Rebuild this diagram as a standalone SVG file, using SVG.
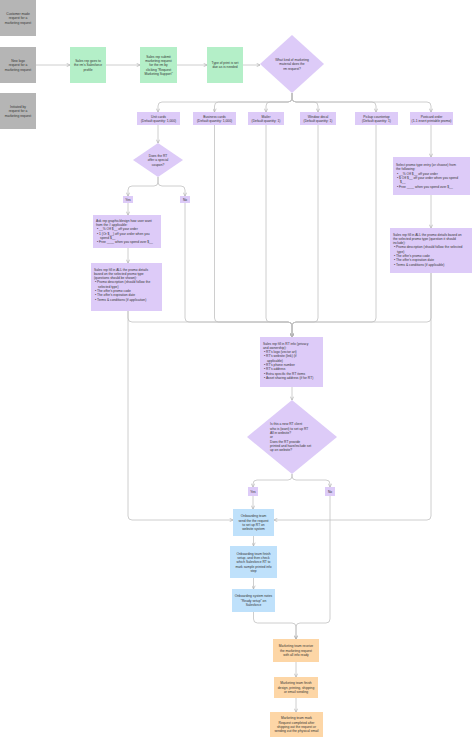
<svg xmlns="http://www.w3.org/2000/svg" width="474" height="739" viewBox="0 0 474 739">
<style>
.bg{fill:#ffffff}
.gy{fill:#b5b5b5}
.gn{fill:#b4efc8}
.pu{fill:#ddcbf8}
.bl{fill:#bfe1fb}
.or{fill:#fdd6a6}
text{font-family:"Liberation Sans",Arial,sans-serif;font-size:3.3px;fill:#333333}
.c{text-anchor:middle}
.e path{fill:none;stroke:#c2c2c2;stroke-width:0.8}
</style>
<defs>
<marker id="a" viewBox="0 0 6 6" refX="5.5" refY="3" markerWidth="4" markerHeight="4" markerUnits="userSpaceOnUse" orient="auto">
<path d="M0.5,0.5 L5.5,3 L0.5,5.5" fill="none" stroke="#b0b0b0" stroke-width="1"/>
</marker>
</defs>
<rect class="bg" x="0" y="0" width="474" height="739"/>

<g class="e" id="connectors">
<path d="M36,65 H70" marker-end="url(#a)"/>
<path d="M106,65 H140" marker-end="url(#a)"/>
<path d="M177,65 H207" marker-end="url(#a)"/>
<path d="M243,65 H260" marker-end="url(#a)"/>
<path d="M292,93 V98 Q292,102 288,102 H162 Q158,102 158,106 V112" marker-end="url(#a)"/>
<path d="M292,93 V98 Q292,102 288,102 H218.5 Q214.5,102 214.5,106 V112" marker-end="url(#a)"/>
<path d="M292,93 V98 Q292,102 288,102 H270 Q266,102 266,106 V112" marker-end="url(#a)"/>
<path d="M292,93 V98 Q292,102 296,102 H314 Q318,102 318,106 V112" marker-end="url(#a)"/>
<path d="M292,93 V98 Q292,102 296,102 H372 Q376,102 376,106 V112" marker-end="url(#a)"/>
<path d="M292,93 V98 Q292,102 296,102 H427 Q431,102 431,106 V112" marker-end="url(#a)"/>
<path d="M158,125 V143" marker-end="url(#a)"/>
<path d="M158,177 V182 Q158,186 154,186 H132 Q128,186 128,190 V196" marker-end="url(#a)"/>
<path d="M158,177 V182 Q158,186 162,186 H181 Q185,186 185,190 V196" marker-end="url(#a)"/>
<path d="M128,203 V215" marker-end="url(#a)"/>
<path d="M128,248 V263" marker-end="url(#a)"/>
<path d="M128,311 V318 Q128,322 132,322 H288 Q292,322 292,326 V337" marker-end="url(#a)"/>
<path d="M185,203 V318 Q185,322 189,322 H288 Q292,322 292,326 V337" marker-end="url(#a)"/>
<path d="M214.5,125 V318 Q214.5,322 218.5,322 H288 Q292,322 292,326 V337" marker-end="url(#a)"/>
<path d="M266,125 V318 Q266,322 270,322 H288 Q292,322 292,326 V337" marker-end="url(#a)"/>
<path d="M318,125 V318 Q318,322 314,322 H296 Q292,322 292,326 V337" marker-end="url(#a)"/>
<path d="M376,125 V318 Q376,322 372,322 H296 Q292,322 292,326 V337" marker-end="url(#a)"/>
<path d="M431,125 V157" marker-end="url(#a)"/>
<path d="M431,195 V228" marker-end="url(#a)"/>
<path d="M431,273 V318 Q431,322 427,322 H296 Q292,322 292,326 V337" marker-end="url(#a)"/>
<path d="M128,311 V516 Q128,520 132,520 H233" marker-end="url(#a)"/>
<path d="M431,273 V516 Q431,520 427,520 H274" marker-end="url(#a)"/>
<path d="M292,387 V400" marker-end="url(#a)"/>
<path d="M292,474 V476 Q292,480 288,480 H257 Q253,480 253,484 V487" marker-end="url(#a)"/>
<path d="M292,474 V476 Q292,480 296,480 H326 Q330,480 330,484 V487" marker-end="url(#a)"/>
<path d="M253,496 V509" marker-end="url(#a)"/>
<path d="M253.5,536 V546" marker-end="url(#a)"/>
<path d="M253.5,578 V589" marker-end="url(#a)"/>
<path d="M253.5,612 V619 Q253.5,623 257.5,623 H292 Q296,623 296,627 V639" marker-end="url(#a)"/>
<path d="M330,496 V619 Q330,623 326,623 H300 Q296,623 296,627 V639" marker-end="url(#a)"/>
<path d="M296,662 V677" marker-end="url(#a)"/>
<path d="M296,698 V712" marker-end="url(#a)"/>
</g>

<g id="gray1"><rect class="gy" x="0" y="0" width="36" height="36"/>
<text class="c" x="18" y="14.9">Customer made</text><text class="c" x="18" y="19.2">request for a</text><text class="c" x="18" y="23.5">marketing request</text></g>
<g id="gray2"><rect class="gy" x="0" y="47" width="36" height="36"/>
<text class="c" x="18" y="61.9">New logo</text><text class="c" x="18" y="66.2">request for a</text><text class="c" x="18" y="70.5">marketing request</text></g>
<g id="gray3"><rect class="gy" x="0" y="93" width="36" height="36"/>
<text class="c" x="18" y="107.9">Initiated by</text><text class="c" x="18" y="112.2">request for a</text><text class="c" x="18" y="116.5">marketing request</text></g>

<g id="green1"><rect class="gn" x="70" y="47" width="36" height="36"/>
<text class="c" x="88" y="61.9">Sales rep goes to</text><text class="c" x="88" y="66.2">the rm's Salesforce</text><text class="c" x="88" y="70.5">profile</text></g>
<g id="green2"><rect class="gn" x="140" y="47" width="37" height="36"/>
<text class="c" x="158.5" y="57.6">Sales rep submit</text><text class="c" x="158.5" y="61.9">marketing request</text><text class="c" x="158.5" y="66.2">for the rm by</text><text class="c" x="158.5" y="70.5">clicking "Request</text><text class="c" x="158.5" y="74.8">Marketing Support"</text></g>
<g id="green3"><rect class="gn" x="207" y="47" width="36" height="36"/>
<text class="c" x="225" y="64">Type of print is set</text><text class="c" x="225" y="68.3">due as is needed</text></g>
<g id="dmain"><polygon class="pu" points="292,35 324,64 292,93 260,64"/>
<text class="c" x="292" y="60.9">What kind of marketing</text><text class="c" x="292" y="65.2">material does the</text><text class="c" x="292" y="69.5">rm request?</text></g>

<g id="opt1"><rect class="pu" x="137" y="112" width="43" height="13"/>
<text class="c" x="158.5" y="117.6">Unit cards</text><text class="c" x="158.5" y="121.9">(Default quantity: 1,000)</text></g>
<g id="opt2"><rect class="pu" x="193" y="112" width="43" height="13"/>
<text class="c" x="214.5" y="117.6">Business cards</text><text class="c" x="214.5" y="121.9">(Default quantity: 1,000)</text></g>
<g id="opt3"><rect class="pu" x="248" y="112" width="36" height="13"/>
<text class="c" x="266" y="117.6">Mailer</text><text class="c" x="266" y="121.9">(Default quantity: 1)</text></g>
<g id="opt4"><rect class="pu" x="300" y="112" width="36" height="13"/>
<text class="c" x="318" y="117.6">Window decal</text><text class="c" x="318" y="121.9">(Default quantity: 1)</text></g>
<g id="opt5"><rect class="pu" x="355" y="112" width="43" height="13"/>
<text class="c" x="376.5" y="117.6">Pickup countertop</text><text class="c" x="376.5" y="121.9">(Default quantity: 1)</text></g>
<g id="opt6"><rect class="pu" x="410" y="112" width="43" height="13"/>
<text class="c" x="431.5" y="117.6">Postcard order</text><text class="c" x="431.5" y="121.9">(1-1 insert printable promo)</text></g>

<g id="dleft"><polygon class="pu" points="158,143 183,160 158,177 133,160"/>
<text class="c" x="158" y="156.9">Does the RT</text><text class="c" x="158" y="161.2">offer a special</text><text class="c" x="158" y="165.5">coupon?</text></g>
<g id="yes1"><rect class="pu" x="123" y="196" width="10" height="7"/><text class="c" x="128" y="200.7">Yes</text></g>
<g id="no1"><rect class="pu" x="180" y="196" width="10" height="7"/><text class="c" x="185" y="200.7">No</text></g>

<g id="lbox1"><rect class="pu" x="93" y="215" width="68" height="33"/>
<text x="96" y="221.6">Ask rep graphic/design how user want</text>
<text x="96" y="225.9">from the # applicable:</text>
<text x="97" y="230.2">•  __% Off $__ off your order</text>
<text x="97" y="234.5">•  1 (Or $__) off your order when you</text>
<text x="100" y="238.8">spend $__</text>
<text x="97" y="243.1">•  Free ____ when you spend over $__</text></g>

<g id="lbox2"><rect class="pu" x="91" y="263" width="71" height="48"/>
<text x="94" y="270.5">Sales rep fill in ALL the promo details</text>
<text x="94" y="274.8">based on the selected promo type</text>
<text x="94" y="279.1">(questions should be shown):</text>
<text x="95" y="283.4">•  Promo description (should follow the</text>
<text x="98" y="287.7">selected type)</text>
<text x="95" y="292">•  The offer's promo code</text>
<text x="95" y="296.3">•  The offer's expiration date</text>
<text x="95" y="300.6">•  Terms &amp; conditions (if application)</text></g>

<g id="rbox1"><rect class="pu" x="393" y="157" width="77" height="38"/>
<text x="396" y="166">Select promo type entry (or choose) from</text>
<text x="396" y="170.3">the following:</text>
<text x="397" y="174.6">•  __% Off $__ off your order</text>
<text x="397" y="178.9">•  $ Off $__ off your order when you spend</text>
<text x="400" y="183.2">$__</text>
<text x="397" y="187.5">•  Free ____ when you spend over $__</text></g>

<g id="rbox2"><rect class="pu" x="390" y="228" width="82" height="45"/>
<text x="393" y="235.5">Sales rep fill in ALL the promo details based on</text>
<text x="393" y="239.8">the selected promo type (question it should</text>
<text x="393" y="244.1">include):</text>
<text x="394" y="248.4">•  Promo description (should follow the selected</text>
<text x="397" y="252.7">type)</text>
<text x="394" y="257">•  The offer's promo code</text>
<text x="394" y="261.3">•  The offer's expiration date</text>
<text x="394" y="265.6">•  Terms &amp; conditions (if applicable)</text></g>

<g id="mbox"><rect class="pu" x="260" y="337" width="63" height="50"/>
<text x="263" y="344.5">Sales rep fill in RT info (privacy</text>
<text x="263" y="348.8">and ownership):</text>
<text x="264" y="353.1">•  RT's logo (vector art)</text>
<text x="264" y="357.4">•  RT's website (link) (if</text>
<text x="267" y="361.7">applicable)</text>
<text x="264" y="366">•  RT's phone number</text>
<text x="264" y="370.3">•  RT's address</text>
<text x="264" y="374.6">•  Extra specific the RT items</text>
<text x="264" y="378.9">•  Asset sharing address (if for RT)</text></g>

<g id="dmid"><polygon class="pu" points="292,400 337,437 292,474 247,437"/>
<text x="270" y="425.3">Is this a new RT client</text>
<text x="270" y="429.6">who is (want) to set up RT</text>
<text x="270" y="433.9">All in website?</text>
<text x="270" y="438.2">or</text>
<text x="270" y="442.5">Does the RT provide</text>
<text x="270" y="446.8">printed and have/include set</text>
<text x="270" y="451.1">up on website?</text></g>
<g id="yes2"><rect class="pu" x="248" y="487" width="10" height="9"/><text class="c" x="253" y="492.7">Yes</text></g>
<g id="no2"><rect class="pu" x="325" y="487" width="10" height="9"/><text class="c" x="330" y="492.7">No</text></g>

<g id="blue1"><rect class="bl" x="233" y="509" width="41" height="27"/>
<text class="c" x="253.5" y="517.3">Onboarding team</text><text class="c" x="253.5" y="521.6">send the the request</text><text class="c" x="253.5" y="525.9">to set up RT on</text><text class="c" x="253.5" y="530.2">website system</text></g>
<g id="blue2"><rect class="bl" x="230" y="546" width="47" height="32"/>
<text class="c" x="253.5" y="554.6">Onboarding team finish</text><text class="c" x="253.5" y="558.9">setup, and then check</text><text class="c" x="253.5" y="563.2">which Salesforce RT to</text><text class="c" x="253.5" y="567.5">mark sample printed info</text><text class="c" x="253.5" y="571.8">step</text></g>
<g id="blue3"><rect class="bl" x="232" y="589" width="43" height="23"/>
<text class="c" x="253.5" y="597.4">Onboarding system notes</text><text class="c" x="253.5" y="601.7">"Ready setup" on</text><text class="c" x="253.5" y="606">Salesforce</text></g>

<g id="orange1"><rect class="or" x="273" y="639" width="46" height="23"/>
<text class="c" x="296" y="647.4">Marketing team receive</text><text class="c" x="296" y="651.7">the marketing request</text><text class="c" x="296" y="656">with all info ready</text></g>
<g id="orange2"><rect class="or" x="274" y="677" width="44" height="21"/>
<text class="c" x="296" y="684.4">Marketing team finish</text><text class="c" x="296" y="688.7">design, printing, shipping</text><text class="c" x="296" y="693">or email sending</text></g>
<g id="orange3"><rect class="or" x="270" y="712" width="53" height="25"/>
<text class="c" x="296.5" y="719.3">Marketing team mark</text><text class="c" x="296.5" y="723.6">Request completed after</text><text class="c" x="296.5" y="727.9">shipping out the request or</text><text class="c" x="296.5" y="732.2">sending out the physical email</text></g>
</svg>
